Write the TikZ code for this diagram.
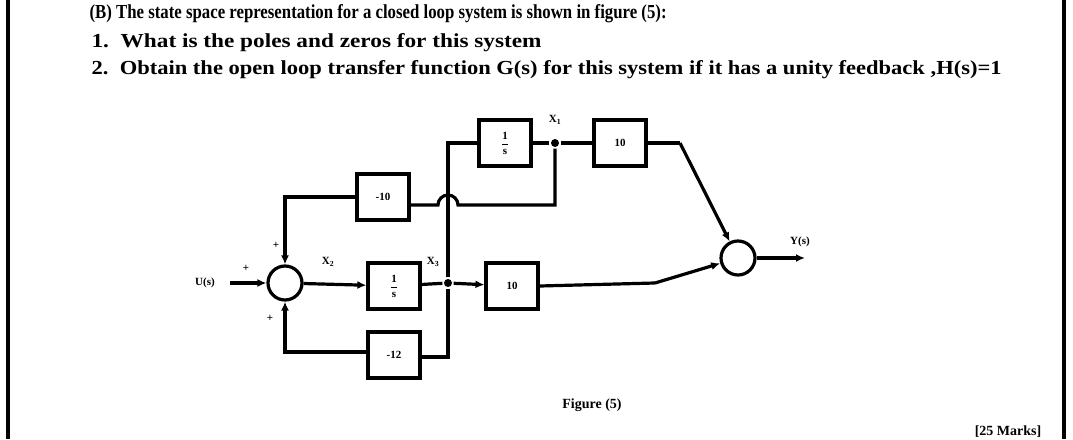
\documentclass[tikz,border=0pt]{standalone}
\usepackage{fontspec}
\setmainfont{Liberation Serif}
\usetikzlibrary{arrows.meta}
\begin{document}
\begin{tikzpicture}[x=1pt,y=-1pt,line width=3.2pt,
  blk/.style={draw,minimum width=52pt,minimum height=46pt,inner sep=0pt,font=\bfseries\fontsize{11}{13}\selectfont},
  sumc/.style={draw,circle,minimum size=34pt,inner sep=0pt},
  dot/.style={circle,fill,inner sep=0pt,minimum size=8pt},
  lbl/.style={font=\bfseries\fontsize{11}{13}\selectfont},
  arr/.style={-{Latex[length=9pt,width=8pt]}},
  txt/.style={font=\bfseries\fontsize{15}{17}\selectfont,anchor=west,inner sep=0pt}]
\useasboundingbox (0,0) rectangle (1073,439);
\draw (8,0) -- (8,439);
\draw (1064,0) -- (1064,439);
\node[txt] (t1) at (88,14) {\resizebox{577pt}{14pt}{(B) The state space representation for a closed loop system is shown in figure (5):}};
\node[txt] (t2) at (90,43) {\resizebox{450pt}{14pt}{1.\ \ What is the poles and zeros for this system}};
\node[txt] (t3) at (90,70) {\resizebox{910pt}{14pt}{2.\ \ Obtain the open loop transfer function G(s) for this system if it has a unity feedback ,H(s)=1}};
\node[sumc] (s1) at (285,283) {};
\node[sumc] (s2) at (738,258) {};
\node[blk] (i2) at (394,286) {$\displaystyle\frac{\mathbf{1}}{\mathbf{s}}$};
\node[blk] (g10b) at (512,286) {10};
\node[blk] (gm10) at (383,197) {-10};
\node[blk] (i1) at (505,143) {$\displaystyle\frac{\mathbf{1}}{\mathbf{s}}$};
\node[blk] (g10t) at (620,143) {10};
\node[blk] (gm12) at (394,355) {-12};
\node[dot] (j3) at (448,283) {};
\node[dot] (j1) at (555,143) {};
\coordinate (u) at (230,283);
\coordinate (y) at (805,258);
\node[lbl] (ul) at (205,283) {U(s)};
\node[lbl] (yl) at (800,242) {Y(s)};
\node[lbl] (x2) at (328,262) {$\mathbf{X_2}$};
\node[lbl] (x3) at (433,262) {$\mathbf{X_3}$};
\node[lbl] (x1) at (555,120) {$\mathbf{X_1}$};
\node[lbl] (p1) at (246,268) {+};
\node[lbl] (p2) at (276,245) {+};
\node[lbl] (p3) at (270,318) {+};
\node[font=\bfseries\fontsize{14}{16}\selectfont] (fig) at (592,405) {Figure (5)};
\node[font=\bfseries\fontsize{14}{16}\selectfont] (mk) at (1008,432) {[25 Marks]};
\draw[arr] (u) -- (s1);
\draw[arr] (s1) -- (i2);
\draw (i2) -- (j3);
\draw[arr] (j3) -- (g10b);
\draw (g10b.east) -- (655,283);
\draw[arr] (655,283) -- (s2);
\draw (j3) -- (448,143) -- (i1.west);
\draw (i1) -- (j1) -- (g10t);
\draw (g10t.east) -- (680,143);
\draw[arr] (680,143) -- (s2);
\draw[arr] (s2) -- (y);
\draw (j3) -- (448,357) -- (420,357);
\draw[arr] (gm12.west |- 0,352) -- (285,352) -- (s1);
\draw (j1) -- (555,205) -- (458,205) arc (0:-180:10) -- (gm10.east |- 0,205);
\draw[arr] (gm10.west |- 0,197) -- (285,197) -- (s1);
\end{tikzpicture}
\end{document}
